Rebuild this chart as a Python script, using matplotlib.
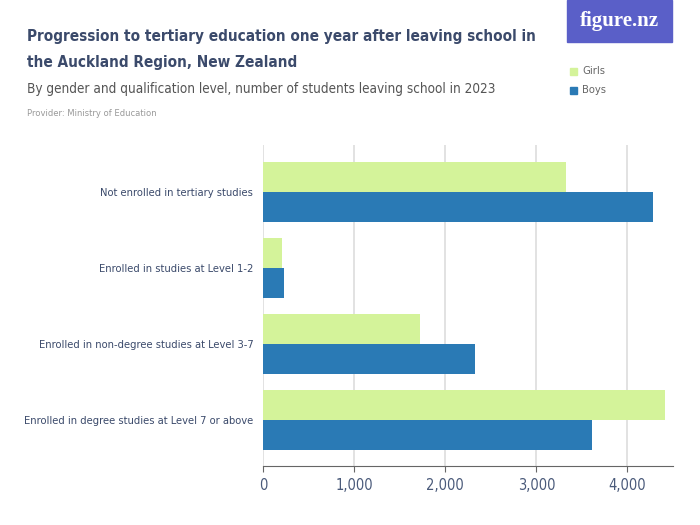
import matplotlib.pyplot as plt
import numpy as np
from matplotlib import font_manager as fm
from matplotlib.patches import Rectangle

# pick a narrow face if one is installed, otherwise fall back to Roboto
narrow = None
for f in fm.fontManager.ttflist:
    if 'Narrow' in f.name or 'Condensed' in f.name or f.stretch in ('condensed', 'semi-condensed'):
        narrow = f
        break
if narrow is not None:
    FAMILY = [narrow.name, 'DejaVu Sans']
    STRETCH = narrow.stretch
else:
    FAMILY = ['Roboto', 'DejaVu Sans']
    STRETCH = 'normal'
plt.rcParams['font.family'] = FAMILY
plt.rcParams['font.stretch'] = STRETCH

categories = ['Not enrolled in tertiary studies',
              'Enrolled in studies at Level 1-2',
              'Enrolled in non-degree studies at Level 3-7',
              'Enrolled in degree studies at Level 7 or above']
girls = [3330, 208, 1722, 4412]
boys = [4280, 227, 2325, 3611]
xticks = [0, 1000, 2000, 3000, 4000]

GIRLS_C = '#d4f39a'
BOYS_C = '#2a7ab5'
TEXT_C = '#3b4a6b'

fig = plt.figure(figsize=(7, 5.25), dpi=100)
W, H = 700, 525
renderer = fig.canvas.get_renderer()


def fit(txt, width_px, max_size):
    # shrink a text until it is no wider than width_px
    size = max_size
    txt.set_fontsize(size)
    while txt.get_window_extent(renderer).width > width_px and size > 5:
        size -= 0.25
        txt.set_fontsize(size)
    return size


# plot area in pixels: left 263, right 673, top 145, bottom 466
ax = fig.add_axes([263 / W, 1 - 466 / H, (673 - 263) / W, (466 - 145) / H])

y = np.arange(len(categories))
h = 30 / 76
ax.barh(y - h / 2, girls, h, color=GIRLS_C, label='Girls', zorder=3)
ax.barh(y + h / 2, boys, h, color=BOYS_C, label='Boys', zorder=3)

ax.set_xlim(0, 4500)
ax.set_ylim(len(categories) - 1 + 46 / 76, -47 / 76)
ax.set_xticks(xticks)
ax.set_xticklabels([f'{v:,}' for v in xticks], color='#4a5a7a', fontsize=10.5)
ax.set_yticks(y)
labels = ax.set_yticklabels(categories, color=TEXT_C, fontsize=10.5)
ax.tick_params(axis='y', length=0, pad=7)
ax.tick_params(axis='x', length=4, color='#666666', pad=5)
ax.grid(axis='x', color='#dddddd', linewidth=1.2, zorder=0)
for s in ['top', 'right', 'left']:
    ax.spines[s].set_visible(False)
ax.spines['bottom'].set_color('#666666')

# longest category label spans roughly 230 px
lab_size = fit(labels[3], 234, 10.5)
for t in labels:
    t.set_fontsize(lab_size)

# titles
t1 = fig.text(27 / W, 1 - 37 / H, 'Progression to tertiary education one year after leaving school in',
              fontsize=15, fontweight='bold', color=TEXT_C, va='center')
s1 = fit(t1, 512, 15)
fig.text(27 / W, 1 - 62 / H, 'the Auckland Region, New Zealand',
         fontsize=s1, fontweight='bold', color=TEXT_C, va='center')
sub = fig.text(27 / W, 1 - 89 / H, 'By gender and qualification level, number of students leaving school in 2023',
               fontsize=13, color='#555555', va='center')
fit(sub, 472, 13)
prov = fig.text(27 / W, 1 - 113 / H, 'Provider: Ministry of Education',
                fontsize=8, color='#999999', va='center')
fit(prov, 133, 8)

# logo
fig.patches.append(Rectangle((567 / W, 1 - 42 / H), 105 / W, 42 / H,
                             transform=fig.transFigure, color='#5a5fc8', zorder=0))
logo = fig.text(619 / W, 1 - 21 / H, 'figure.nz', fontsize=15, color='white',
                ha='center', va='center', family=['Liberation Serif', 'DejaVu Serif'],
                fontweight='bold')
fit(logo, 80, 15)

# legend
for i, (lab, c) in enumerate([('Girls', GIRLS_C), ('Boys', BOYS_C)]):
    yy = 71 + i * 19
    fig.patches.append(Rectangle((570 / W, 1 - (yy + 4) / H), 7 / W, 7 / H,
                                 transform=fig.transFigure, color=c))
    fig.text(582 / W, 1 - yy / H, lab, fontsize=8, color='#666666', va='center')

fig.savefig('out.png', dpi=100)
